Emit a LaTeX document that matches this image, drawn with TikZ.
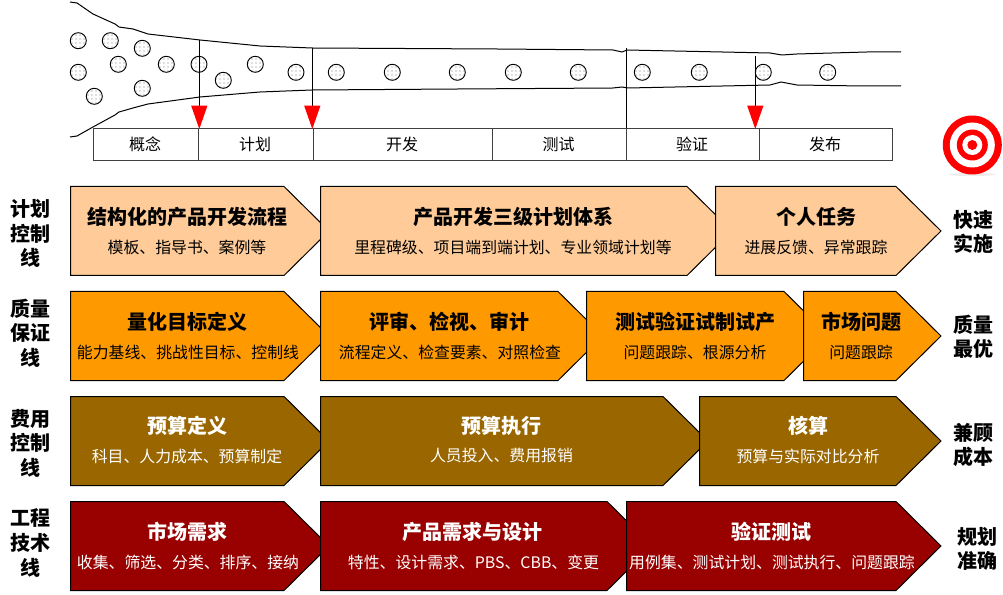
\documentclass[tikz,border=0pt]{standalone}
\usepackage{fontspec}
\setmainfont{Noto Sans CJK SC}
\usetikzlibrary{arrows.meta,patterns}
\definecolor{planfill}{HTML}{FFCC99}
\definecolor{qualityfill}{HTML}{FF9900}
\definecolor{costfill}{HTML}{996600}
\definecolor{techfill}{HTML}{990000}
\tikzstyle{planbar} = [draw=black, line width=0.75pt, fill=planfill]
\tikzstyle{qualitybar} = [draw=black, line width=0.75pt, fill=qualityfill]
\tikzstyle{costbar} = [draw=black, line width=0.75pt, fill=costfill]
\tikzstyle{techbar} = [draw=black, line width=0.75pt, fill=techfill]
\tikzstyle{barhead} = [font=\fontsize{15pt}{18pt}\selectfont\bfseries, inner sep=0pt]
\tikzstyle{barsub} = [font=\fontsize{11.9pt}{14pt}\selectfont, inner sep=0pt]
\tikzstyle{sidelabel} = [font=\fontsize{15pt}{18.4pt}\selectfont\bfseries, align=center, inner sep=0pt]
\tikzstyle{phasecell} = [draw=black!75, line width=0.75pt]
\tikzstyle{phaselabel} = [font=\fontsize{12pt}{14pt}\selectfont, inner sep=0pt, xshift=-0.6pt]
\tikzstyle{pipe} = [draw=black, line width=0.75pt]
\tikzstyle{bubble} = [draw=black, line width=0.7pt, pattern=dots, pattern color=black!55]
\tikzstyle{gate} = [draw=black, line width=0.75pt]
\tikzstyle{gatearrow} = [gate, -{Triangle[length=17.5pt,width=12pt,color=red,fill=red]}]

\begin{document}
\begin{tikzpicture}[x=0.75pt,y=-0.75pt]
    \useasboundingbox (0,0) rectangle (1003,595);

    % Draw the funnel walls
    \draw [pipe] (70,2) -- (77,3) -- (93,14) -- (115,24) -- (119,27) -- (133,29) -- (148,34) -- (200,40) -- (260,46) -- (312,48) -- (497,49) -- (613,50) -- (622,52) -- (627,50) -- (770,53) -- (782,55) -- (797,54) -- (867,52) -- (901,52);
    \draw [pipe] (70,137) -- (77,136) -- (93,127) -- (115,115) -- (119,112) -- (133,108) -- (148,104) -- (200,97) -- (260,92) -- (312,90) -- (458,89) -- (613,88) -- (622,87) -- (628,88) -- (770,85) -- (781,82) -- (797,85) -- (863,86) -- (901,86);

    % Draw the bubbles
    \draw [bubble] (78.3,40.7) circle (8);
    \draw [bubble] (110.3,40.7) circle (8);
    \draw [bubble] (142.3,48.3) circle (8);
    \draw [bubble] (118.3,64.3) circle (8);
    \draw [bubble] (166.3,64.3) circle (8);
    \draw [bubble] (199,64.3) circle (8);
    \draw [bubble] (78.3,72.3) circle (8);
    \draw [bubble] (94.3,96.3) circle (8);
    \draw [bubble] (142.3,88.3) circle (8);
    \draw [bubble] (223.3,80.3) circle (8);
    \draw [bubble] (255.3,64.3) circle (8);
    \draw [bubble] (296,72.3) circle (8);
    \draw [bubble] (336.3,72.3) circle (8);
    \draw [bubble] (392.3,72.3) circle (8);
    \draw [bubble] (457.3,72.3) circle (8);
    \draw [bubble] (513.3,72.3) circle (8);
    \draw [bubble] (578.3,72.3) circle (8);
    \draw [bubble] (642.3,72.3) circle (8);
    \draw [bubble] (699.3,72.3) circle (8);
    \draw [bubble] (763.3,72.3) circle (8);
    \draw [bubble] (827.7,72.3) circle (8);

    % Draw the phase cells
    \draw [phasecell] (93.5,128.5) rectangle (198.5,160.5) node [phaselabel, midway] (concept) {概念};
    \draw [phasecell] (198.5,128.5) rectangle (313.5,160.5) node [phaselabel, midway] (planning) {计划};
    \draw [phasecell] (313.5,128.5) rectangle (492.5,160.5) node [phaselabel, midway] (develop) {开发};
    \draw [phasecell] (492.5,128.5) rectangle (626.5,160.5) node [phaselabel, midway] (testing) {测试};
    \draw [phasecell] (626.5,128.5) rectangle (759.5,160.5) node [phaselabel, midway] (verify) {验证};
    \draw [phasecell] (759.5,128.5) rectangle (892.5,160.5) node [phaselabel, midway] (release) {发布};

    % Draw the gates
    \coordinate (gatea) at (199.3,40);
    \coordinate (gateaend) at (199.3,129);
    \coordinate (gateb) at (312.3,48);
    \coordinate (gatebend) at (312.3,129);
    \coordinate (gatec) at (626.3,48);
    \coordinate (gatecend) at (626.3,128.5);
    \coordinate (gated) at (755.3,56.5);
    \coordinate (gatedend) at (755.3,129);
    \draw [gatearrow] (gatea) -- (gateaend);
    \draw [gatearrow] (gateb) -- (gatebend);
    \draw [gate] (gatec) -- (gatecend);
    \draw [gatearrow] (gated) -- (gatedend);

    % Draw the target
    \fill [black!7] (972.3,174.5) ellipse (24 and 1.5);
    \fill [red] (972.3,145) circle (29.5);
    \fill [white] (972.3,145) circle (22.5);
    \fill [red] (972.3,145) circle (15.5);
    \fill [white] (972.3,145) circle (10);
    \fill [red] (972.3,145) circle (5);

    % Draw the plan row
    \node [sidelabel] (planleft) at (31,233.5) {计划\\控制\\线};
    \draw [planbar] (70.5,186.5) -- (284,186.5) -- (329,231) -- (284,275.5) -- (70.5,275.5) -- cycle;
    \draw [planbar] (320.5,186.5) -- (687,186.5) -- (732,231) -- (687,275.5) -- (320.5,275.5) -- cycle;
    \draw [planbar] (715.5,186.5) -- (896,186.5) -- (941,231) -- (896,275.5) -- (715.5,275.5) -- cycle;
    \node [barhead] (planheada) at (187,217) {结构化的产品开发流程};
    \node [barsub] (plansuba) at (187,247) {模板、指导书、案例等};
    \node [barhead] (planheadb) at (513,217) {产品开发三级计划体系};
    \node [barsub] (plansubb) at (513,247) {里程碑级、项目端到端计划、专业领域计划等};
    \node [barhead] (planheadc) at (816,217) {个人任务};
    \node [barsub] (plansubc) at (816,247) {进展反馈、异常跟踪};
    \node [sidelabel] (planright) at (973,232) {快速\\实施};

    % Draw the quality row
    \node [sidelabel] (qualityleft) at (31,333) {质量\\保证\\线};
    \draw [qualitybar] (70.5,291.5) -- (284,291.5) -- (329,336) -- (284,380.5) -- (70.5,380.5) -- cycle;
    \draw [qualitybar] (320.5,291.5) -- (558,291.5) -- (603,336) -- (558,380.5) -- (320.5,380.5) -- cycle;
    \draw [qualitybar] (586.5,291.5) -- (784,291.5) -- (829,336) -- (784,380.5) -- (586.5,380.5) -- cycle;
    \draw [qualitybar] (803.5,291.5) -- (896,291.5) -- (941,336) -- (896,380.5) -- (803.5,380.5) -- cycle;
    \node [barhead] (qualityheada) at (187,322) {量化目标定义};
    \node [barsub] (qualitysuba) at (188,352) {能力基线、挑战性目标、控制线};
    \node [barhead] (qualityheadb) at (449,322) {评审、检视、审计};
    \node [barsub] (qualitysubb) at (450,352) {流程定义、检查要素、对照检查};
    \node [barhead] (qualityheadc) at (695,322) {测试验证试制试产};
    \node [barsub] (qualitysubc) at (695,352) {问题跟踪、根源分析};
    \node [barhead] (qualityheadd) at (861,322) {市场问题};
    \node [barsub] (qualitysubd) at (861,352) {问题跟踪};
    \node [sidelabel] (qualityright) at (973,337) {质量\\最优};

    % Draw the cost row
    \node [sidelabel] (costleft) at (31,443) {费用\\控制\\线};
    \draw [costbar] (70.5,396.5) -- (284,396.5) -- (329,441) -- (284,485.5) -- (70.5,485.5) -- cycle;
    \draw [costbar] (320.5,396.5) -- (663,396.5) -- (708,441) -- (663,485.5) -- (320.5,485.5) -- cycle;
    \draw [costbar] (699.5,396.5) -- (896,396.5) -- (941,441) -- (896,485.5) -- (699.5,485.5) -- cycle;
    \node [barhead, white] (costheada) at (187,426) {预算定义};
    \node [barsub, white] (costsuba) at (187,456) {科目、人力成本、预算制定};
    \node [barhead, white] (costheadb) at (501,426) {预算执行};
    \node [barsub, white] (costsubb) at (501.5,456) {人员投入、费用报销};
    \node [barhead, white] (costheadc) at (808,426) {核算};
    \node [barsub, white] (costsubc) at (808,456) {预算与实际对比分析};
    \node [sidelabel] (costright) at (973,445) {兼顾\\成本};

    % Draw the tech row
    \node [sidelabel] (techleft) at (31,543) {工程\\技术\\线};
    \draw [techbar] (70.5,501.5) -- (284,501.5) -- (329,546) -- (284,590.5) -- (70.5,590.5) -- cycle;
    \draw [techbar] (320.5,501.5) -- (607,501.5) -- (652,546) -- (607,590.5) -- (320.5,590.5) -- cycle;
    \draw [techbar] (626.5,501.5) -- (896,501.5) -- (941,546) -- (896,590.5) -- (626.5,590.5) -- cycle;
    \node [barhead, white] (techheada) at (187,532) {市场需求};
    \node [barsub, white] (techsuba) at (188,562) {收集、筛选、分类、排序、接纳};
    \node [barhead, white] (techheadb) at (472.5,532) {产品需求与设计};
    \node [barsub, white] (techsubb) at (473.5,562) {特性、设计需求、PBS、CBB、变更};
    \node [barhead, white] (techheadc) at (771,532) {验证测试};
    \node [barsub, white] (techsubc) at (772,562) {用例集、测试计划、测试执行、问题跟踪};
    \node [sidelabel] (techright) at (977,549) {规划\\准确};
  \end{tikzpicture}
\end{document}
